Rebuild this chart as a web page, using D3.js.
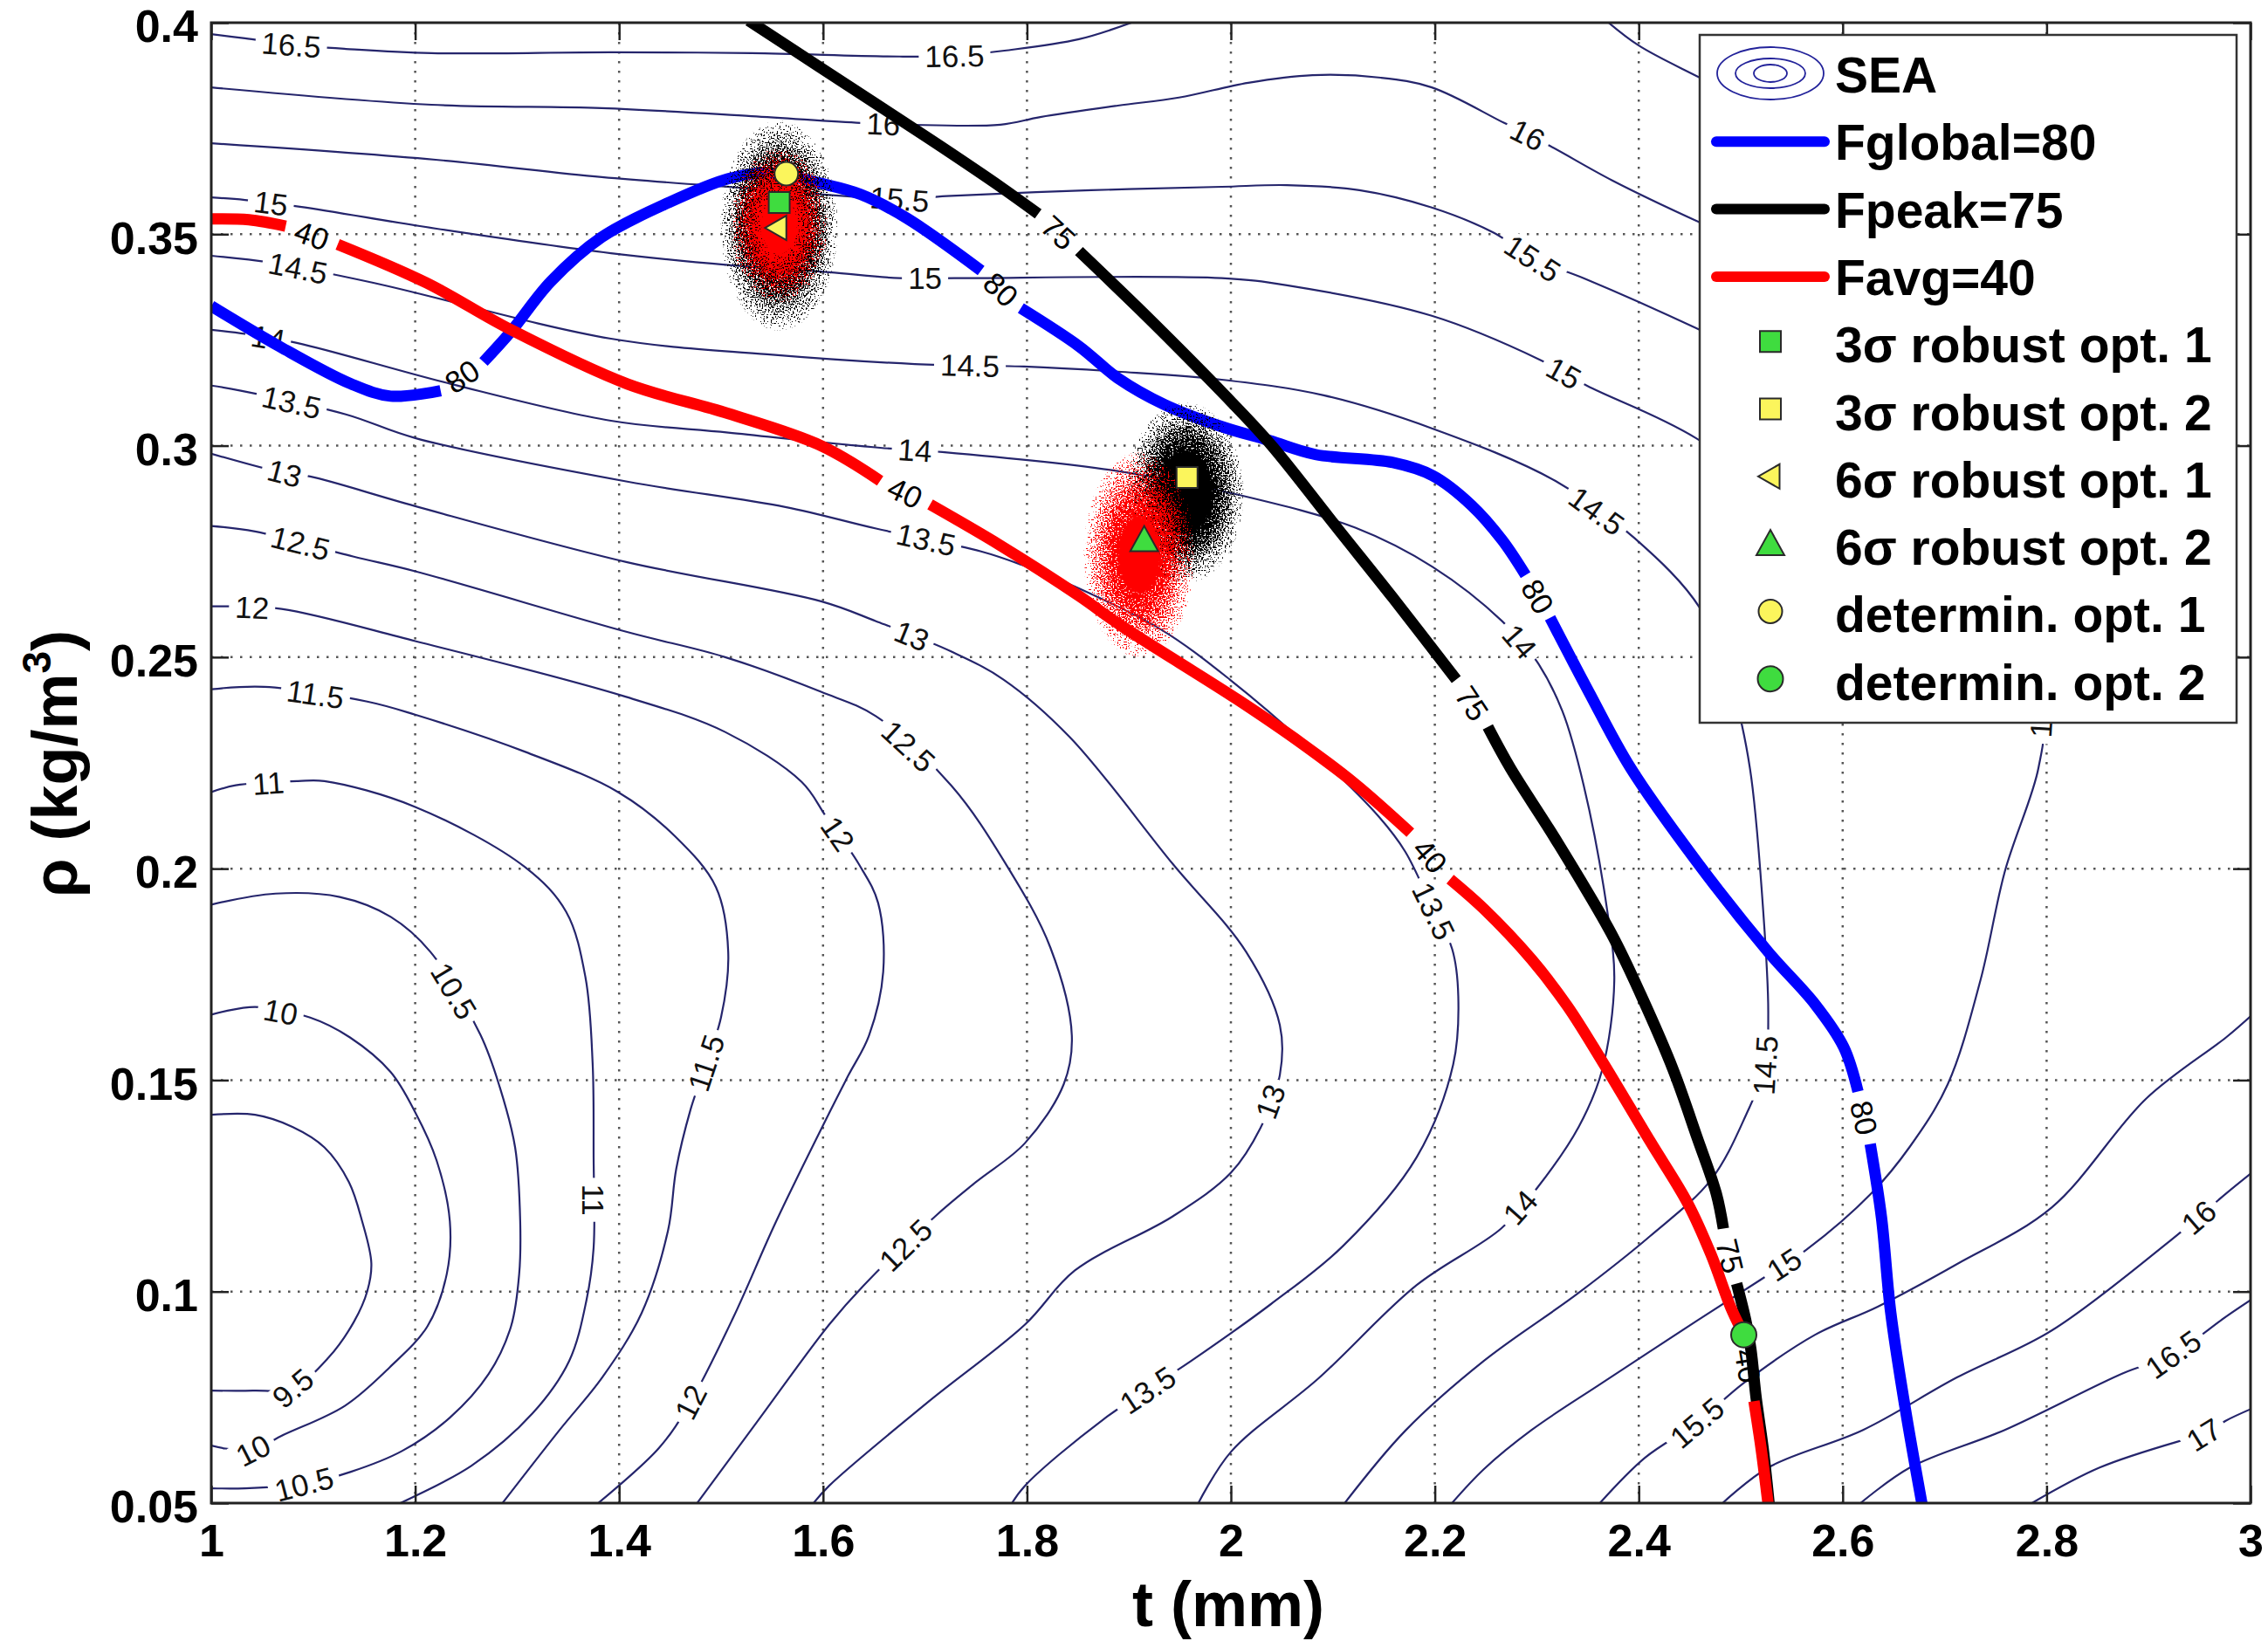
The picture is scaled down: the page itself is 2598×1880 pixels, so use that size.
<!DOCTYPE html>
<html><head><meta charset="utf-8">
<script src="https://cdn.jsdelivr.net/npm/d3@7"></script>
<style>
html,body{margin:0;padding:0;background:#fff;}
svg{display:block;}
text{font-family:"Liberation Sans",Arial,Helvetica,sans-serif;}
</style></head><body>
<svg id="chart" width="2598" height="1880"></svg>
<script>
// ---------------- DATA ----------------
const tTicks = [1, 1.2, 1.4, 1.6, 1.8, 2, 2.2, 2.4, 2.6, 2.8, 3];
const rhoTicks = [0.05, 0.1, 0.15, 0.2, 0.25, 0.3, 0.35, 0.4];

// SEA contour lines, [t, rho]
const sea9_5 = [[1.0,0.1418],[1.043,0.1418],[1.080,0.1389],[1.111,0.1341],[1.135,0.1259],[1.148,0.1166],[1.157,0.1067],[1.153,0.1001],[1.140,0.0929],[1.115,0.0844],[1.080,0.0772],[1.041,0.0766],[1.0,0.0766]];
const sea10 = [[1.0,0.1655],[1.043,0.1673],[1.097,0.1648],[1.136,0.1601],[1.176,0.1519],[1.200,0.1424],[1.221,0.1310],[1.234,0.1166],[1.231,0.1042],[1.212,0.0918],[1.175,0.0821],[1.131,0.0730],[1.068,0.0658],[1.041,0.0625],[1.014,0.0629],[1.0,0.0636]];
const sea10_5 = [[1.0,0.1915],[1.063,0.1941],[1.126,0.1933],[1.176,0.1886],[1.215,0.1803],[1.264,0.1607],[1.283,0.1483],[1.298,0.1341],[1.303,0.1166],[1.302,0.1042],[1.294,0.0918],[1.272,0.0805],[1.234,0.0702],[1.187,0.0623],[1.137,0.0574],[1.091,0.0545],[1.033,0.0535],[1.0,0.0535]];
const sea11 = [[1.0,0.2181],[1.024,0.2197],[1.085,0.2207],[1.111,0.2207],[1.200,0.2146],[1.308,0.2003],[1.348,0.1898],[1.367,0.1743],[1.374,0.1541],[1.375,0.1316],[1.375,0.1104],[1.368,0.0980],[1.351,0.0836],[1.315,0.0712],[1.255,0.0588],[1.181,0.0495]];
const sea11_5 = [[1.0,0.2424],[1.052,0.2430],[1.153,0.2395],[1.200,0.2364],[1.308,0.2276],[1.399,0.2181],[1.455,0.2076],[1.495,0.1956],[1.507,0.1803],[1.500,0.1649],[1.470,0.1430],[1.456,0.1290],[1.448,0.1145],[1.422,0.0949],[1.384,0.0799],[1.341,0.0671],[1.284,0.0495]];
const sea12 = [[1.0,0.2620],[1.018,0.2620],[1.069,0.2614],[1.200,0.2538],[1.407,0.2406],[1.504,0.2323],[1.579,0.2205],[1.603,0.2123],[1.635,0.2011],[1.654,0.1919],[1.659,0.1756],[1.645,0.1605],[1.625,0.1512],[1.606,0.1422],[1.554,0.1166],[1.512,0.0939],[1.470,0.0739],[1.439,0.0630],[1.377,0.0495]];
const sea12_5 = [[1.0,0.2810],[1.043,0.2797],[1.139,0.2738],[1.200,0.2703],[1.407,0.2560],[1.504,0.2500],[1.598,0.2418],[1.652,0.2360],[1.726,0.2196],[1.779,0.2012],[1.823,0.1813],[1.844,0.1605],[1.836,0.1490],[1.798,0.1351],[1.750,0.1259],[1.710,0.1178],[1.640,0.1015],[1.606,0.0922],[1.535,0.0691],[1.475,0.0495]];
const sea13 = [[1.0,0.2981],[1.072,0.2935],[1.097,0.2927],[1.200,0.2857],[1.407,0.2725],[1.598,0.2632],[1.652,0.2585],[1.726,0.2513],[1.777,0.2447],[1.842,0.2311],[1.943,0.2011],[2.015,0.1803],[2.048,0.1630],[2.048,0.1512],[2.029,0.1387],[2.000,0.1281],[1.943,0.1178],[1.847,0.1050],[1.798,0.0922],[1.702,0.0737],[1.606,0.0541],[1.589,0.0495]];
const sea13_5 = [[1.0,0.3142],[1.029,0.3130],[1.132,0.3074],[1.200,0.3018],[1.408,0.2915],[1.563,0.2855],[1.652,0.2804],[1.755,0.2750],[1.794,0.2719],[1.846,0.2668],[1.931,0.2566],[1.999,0.2447],[2.075,0.2290],[2.145,0.2123],[2.171,0.2040],[2.199,0.1900],[2.217,0.1810],[2.223,0.1698],[2.218,0.1537],[2.182,0.1317],[2.110,0.1108],[2.039,0.0970],[1.961,0.0836],[1.875,0.0698],[1.798,0.0541],[1.784,0.0495]];
const sea14 = [[1.0,0.3274],[1.034,0.3264],[1.084,0.3243],[1.235,0.3146],[1.392,0.3059],[1.507,0.3031],[1.656,0.2995],[1.717,0.2985],[1.889,0.2940],[2.007,0.2884],[2.122,0.2806],[2.198,0.2713],[2.266,0.2585],[2.300,0.2490],[2.325,0.2373],[2.346,0.2197],[2.369,0.1902],[2.376,0.1735],[2.364,0.1523],[2.341,0.1389],[2.300,0.1244],[2.265,0.1149],[2.182,0.1015],[2.086,0.0795],[2.000,0.0621],[1.967,0.0495]];
const sea14_5 = [[1.0,0.3449],[1.058,0.3433],[1.159,0.3385],[1.392,0.3253],[1.545,0.3216],[1.690,0.3193],[1.797,0.3187],[1.889,0.3175],[1.991,0.3156],[2.091,0.3119],[2.197,0.3041],[2.318,0.2917],[2.396,0.2781],[2.460,0.2616],[2.492,0.2424],[2.509,0.2238],[2.522,0.1902],[2.527,0.1657],[2.524,0.1535],[2.506,0.1422],[2.471,0.1265],[2.411,0.1131],[2.341,0.0997],[2.248,0.0836],[2.171,0.0671],[2.110,0.0495]];
const sea15 = [[1.0,0.3587],[1.033,0.3581],[1.087,0.3565],[1.221,0.3513],[1.392,0.3455],[1.507,0.3427],[1.606,0.3410],[1.675,0.3396],[1.729,0.3396],[1.991,0.3396],[2.055,0.3379],[2.197,0.3307],[2.304,0.3202],[2.349,0.3142],[2.456,0.3018],[2.620,0.2720],[2.750,0.2500],[2.795,0.2360],[2.792,0.2238],[2.759,0.1993],[2.735,0.1735],[2.703,0.1490],[2.666,0.1343],[2.628,0.1232],[2.564,0.1098],[2.522,0.1032],[2.457,0.0931],[2.364,0.0784],[2.295,0.0673],[2.248,0.0580],[2.215,0.0495]];
const sea15_5a = [[1.0,0.3715],[1.220,0.3676],[1.383,0.3635],[1.530,0.3608],[1.675,0.3583],[1.721,0.3590],[1.863,0.3604],[1.991,0.3612],[2.055,0.3616],[2.126,0.3604],[2.197,0.3563],[2.258,0.3503],[2.296,0.3443],[2.346,0.3396],[2.456,0.3278],[2.548,0.3167]];
const sea15_5b = [[3.0,0.1651],[2.976,0.1601],[2.898,0.1457],[2.805,0.1199],[2.712,0.1065],[2.634,0.0964],[2.573,0.0898],[2.503,0.0784],[2.457,0.0690],[2.406,0.0607],[2.360,0.0495]];
const sea16a = [[1.0,0.3847],[1.216,0.3806],[1.383,0.3798],[1.530,0.3779],[1.637,0.3763],[1.682,0.3759],[1.774,0.3759],[1.813,0.3777],[1.889,0.3804],[1.949,0.3823],[2.017,0.3858],[2.080,0.3876],[2.147,0.3870],[2.197,0.3847],[2.268,0.3763],[2.311,0.3711],[2.374,0.3627],[2.456,0.3532],[2.548,0.3435]];
const sea16b = [[3.0,0.1279],[2.976,0.1232],[2.949,0.1176],[2.921,0.1120],[2.805,0.0908],[2.712,0.0797],[2.620,0.0673],[2.527,0.0584],[2.480,0.0495]];
const sea16_5a = [[1.0,0.3973],[1.033,0.3963],[1.078,0.3948],[1.132,0.3938],[1.216,0.3928],[1.392,0.3930],[1.530,0.3928],[1.675,0.3920],[1.729,0.3922],[1.778,0.3934],[1.851,0.3961],[1.908,0.4005]];
const sea16_5b = [[3.0,0.0980],[2.976,0.0941],[2.924,0.0852],[2.875,0.0807],[2.759,0.0673],[2.666,0.0584],[2.615,0.0495]];
const sea16_5c = [[2.368,0.4005],[2.400,0.3946],[2.460,0.3870],[2.548,0.3765]];
const sea17 = [[3.0,0.0722],[2.976,0.0695],[2.954,0.0662],[2.935,0.0650],[2.852,0.0584],[2.782,0.0495]];

const seaLevels = [9.5, 10, 10.5, 11, 11.5, 12, 12.5, 13, 13.5, 14, 14.5, 15, 15.5, 15.5, 16, 16, 16.5, 16.5, 16.5, 17];
const seaLines = [sea9_5, sea10, sea10_5, sea11, sea11_5, sea12, sea12_5, sea13, sea13_5, sea14, sea14_5, sea15, sea15_5a, sea15_5b, sea16a, sea16b, sea16_5a, sea16_5b, sea16_5c, sea17];

// contour label anchors [level, t, rho]
const seaLabelPts = [
  [16.5,1.078,0.3935],[16.5,1.729,0.3920],
  [16,1.659,0.3755],[16,2.289,0.3725],
  [15.5,1.675,0.3583],[15.5,2.296,0.3443],
  [15,1.058,0.3565],[15,1.700,0.3392],[15,2.325,0.3165],[15,2.796,0.2350],[15,2.545,0.1055],
  [14.5,1.085,0.3420],[14.5,1.744,0.3185],[14.5,2.357,0.2840],[14.5,2.524,0.1535],
  [14,1.056,0.3258],[14,1.690,0.2985],[14,2.280,0.2530],[14,2.288,0.1190],
  [13.5,1.078,0.3095],[13.5,1.701,0.2778],[13.5,2.199,0.1900],[13.5,1.919,0.0765],
  [13,1.072,0.2935],[13,1.687,0.2550],[13,2.045,0.1444],
  [12.5,1.087,0.2765],[12.5,1.684,0.2290],[12.5,1.681,0.1110],
  [12,1.040,0.2616],[12,1.613,0.2080],[12,1.470,0.0739],
  [11.5,1.102,0.2410],[11.5,1.485,0.1541],
  [11,1.056,0.2200],[11,1.375,0.1217],
  [10.5,1.232,0.1702],[10.5,1.091,0.0545],
  [10,1.068,0.1660],[10,1.041,0.0625],
  [9.5,1.080,0.0772],
  [15.5,2.457,0.0690],
  [16,2.949,0.1176],
  [16.5,2.924,0.0852],
  [17,2.954,0.0662]
];

// constraint curves, split where the inline label sits
const fGlobalSegs = [
  [[1.0,0.3330],[1.068,0.3233],[1.137,0.3146],[1.176,0.3117],[1.225,0.3130]],
  [[1.267,0.3198],[1.294,0.3270],[1.333,0.3388],[1.383,0.3493],[1.449,0.3575],[1.507,0.3631],[1.546,0.3645],[1.598,0.3620],[1.637,0.3594],[1.682,0.3538],[1.755,0.3414]],
  [[1.794,0.3325],[1.851,0.3235],[1.889,0.3160],[1.935,0.3097],[1.991,0.3045],[2.038,0.3012],[2.083,0.2979],[2.159,0.2960],[2.198,0.2929],[2.236,0.2859],[2.266,0.2777],[2.289,0.2694]],
  [[2.313,0.2593],[2.351,0.2418],[2.392,0.2238],[2.457,0.2016],[2.527,0.1803],[2.573,0.1679],[2.601,0.1578],[2.615,0.1473]],
  [[2.627,0.1349],[2.638,0.1176],[2.647,0.0953],[2.661,0.0729],[2.678,0.0495]]
];
const fPeakSegs = [
  [[1.527,0.4005],[1.598,0.3893],[1.659,0.3797],[1.717,0.3705],[1.774,0.3612],[1.811,0.3548]],
  [[1.851,0.3460],[1.908,0.3328],[1.949,0.3230],[1.991,0.3127],[2.038,0.3006],[2.106,0.2800],[2.159,0.2640],[2.221,0.2447]],
  [[2.252,0.2335],[2.274,0.2238],[2.318,0.2071],[2.373,0.1847],[2.402,0.1702],[2.434,0.1523],[2.457,0.1366],[2.476,0.1232],[2.483,0.1149]],
  [[2.496,0.1019],[2.505,0.0931],[2.510,0.0863],[2.515,0.0751],[2.522,0.0629],[2.528,0.0495]]
];
const fAvgSegs = [
  [[1.0,0.3536],[1.037,0.3534],[1.073,0.3519]],
  [[1.124,0.3476],[1.211,0.3385],[1.294,0.3274],[1.408,0.3146],[1.507,0.3076],[1.598,0.3000],[1.656,0.2917]],
  [[1.705,0.2861],[1.774,0.2764],[1.851,0.2645],[1.892,0.2575],[2.007,0.2399],[2.070,0.2295],[2.122,0.2200],[2.176,0.2085]],
  [[2.215,0.1975],[2.248,0.1905],[2.295,0.1785],[2.330,0.1675],[2.364,0.1545],[2.411,0.1356],[2.448,0.1209],[2.471,0.1087],[2.490,0.0964],[2.501,0.0908]],
  [[2.513,0.0741],[2.520,0.0629],[2.527,0.0495]]
];
const curveNames = ['Fglobal=80', 'Fpeak=75', 'Favg=40'];
const curveLevels = ['80', '75', '40'];

// Monte-Carlo sample clouds: [t centre, rho centre, t half-spread, rho half-spread]
const cloudBlack = [[1.557, 0.3520, 0.058, 0.0250], [1.955, 0.2888, 0.058, 0.0215]];
const cloudRed   = [[1.557, 0.3520, 0.048, 0.0185], [1.910, 0.2742, 0.055, 0.0245]];

// optimum points
const markerNames = ['3σ robust opt. 1', '3σ robust opt. 2', '6σ robust opt. 1', '6σ robust opt. 2', 'determin. opt. 1', 'determin. opt. 2'];
const markerT   = [1.557, 1.957, 1.555, 1.915, 1.564, 2.503];
const markerRho = [0.3575, 0.2925, 0.3515, 0.2777, 0.3643, 0.0898];

const legendLabels = ['SEA', 'Fglobal=80', 'Fpeak=75', 'Favg=40'].concat(markerNames);

// ---------------- STYLE / LAYOUT ----------------
const FONT = '"Liberation Sans",Arial,Helvetica,sans-serif';
const plotL = 242, plotR = 2578, plotT = 26, plotB = 1722;
const contourColor = '#25256c';
const curveColors = ['#0000ff', '#000000', '#ff0000'];
const markerStyle = [
  {shape: 'square', fill: '#3fdc3f', size: 24},
  {shape: 'square', fill: '#fbf55c', size: 24},
  {shape: 'tleft', fill: '#fbf55c', size: 28},
  {shape: 'tup', fill: '#3fdc3f', size: 32},
  {shape: 'circle', fill: '#fbf55c', size: 27},
  {shape: 'circle', fill: '#3fdc3f', size: 29}
];

const x = d3.scaleLinear().domain([1, 3]).range([plotL, plotR]);
const y = d3.scaleLinear().domain([0.05, 0.4]).range([plotB, plotT]);

const svg = d3.select('#chart');
svg.append('rect').attr('width', 2598).attr('height', 1880).attr('fill', '#fff');
const defs = svg.append('defs');
defs.append('clipPath').attr('id', 'plotClip').append('rect')
  .attr('x', plotL).attr('y', plotT).attr('width', plotR - plotL).attr('height', plotB - plotT);

const grad = defs.append('radialGradient').attr('id', 'cloudGrad');
[[0, 1], [35, 0.93], [62, 0.58], [84, 0.24], [100, 0]].forEach(([o, a]) =>
  grad.append('stop').attr('offset', o + '%').attr('stop-color', '#fff').attr('stop-opacity', a));

function speckle(id, color, seed, gain) {
  const f = defs.append('filter').attr('id', id)
    .attr('x', '-5%').attr('y', '-5%').attr('width', '110%').attr('height', '110%')
    .attr('color-interpolation-filters', 'sRGB');
  f.append('feTurbulence').attr('type', 'fractalNoise').attr('baseFrequency', 0.6)
    .attr('numOctaves', 1).attr('seed', seed).attr('result', 'noise');
  f.append('feColorMatrix').attr('in', 'noise').attr('type', 'matrix')
    .attr('values', '0 0 0 0 0  0 0 0 0 0  0 0 0 0 0  1 0 0 0 0').attr('result', 'nA0');
  const st = f.append('feComponentTransfer').attr('in', 'nA0').attr('result', 'nA');
  st.append('feFuncA').attr('type', 'linear').attr('slope', 3).attr('intercept', -1);
  f.append('feComposite').attr('in', 'SourceAlpha').attr('in2', 'nA').attr('operator', 'arithmetic')
    .attr('k1', 0).attr('k2', gain).attr('k3', 1).attr('k4', -1).attr('result', 'm');
  const ct = f.append('feComponentTransfer').attr('in', 'm').attr('result', 'mask');
  ct.append('feFuncA').attr('type', 'linear').attr('slope', 14).attr('intercept', 0);
  f.append('feFlood').attr('flood-color', color).attr('result', 'col');
  f.append('feComposite').attr('in', 'col').attr('in2', 'mask').attr('operator', 'in');
}
speckle('speckBlack', '#000000', 3, 1.32);
speckle('speckRed', '#ff0000', 11, 1.15);

const plot = svg.append('g').attr('clip-path', 'url(#plotClip)');

// grid
const gGrid = plot.append('g');
gGrid.selectAll('line.v').data(tTicks.slice(1, -1)).join('line')
  .attr('x1', d => x(d)).attr('x2', d => x(d)).attr('y1', plotT).attr('y2', plotB)
  .attr('stroke', '#555').attr('stroke-width', 2.5).attr('stroke-dasharray', '2.5,8.5');
gGrid.selectAll('line.h').data(rhoTicks.slice(1, -1)).join('line')
  .attr('y1', d => y(d)).attr('y2', d => y(d)).attr('x1', plotL).attr('x2', plotR)
  .attr('stroke', '#555').attr('stroke-width', 2.5).attr('stroke-dasharray', '2.5,8.5');

// contours
const smooth = d3.line().x(d => x(d[0])).y(d => y(d[1])).curve(d3.curveCatmullRom.alpha(0.5));
plot.append('g').selectAll('path').data(seaLines).join('path')
  .attr('d', d => smooth(d)).attr('fill', 'none')
  .attr('stroke', contourColor).attr('stroke-width', 2.2).attr('stroke-linejoin', 'round');

function project(px, py, polys) {
  let best = null;
  polys.forEach(pts => {
    for (let i = 0; i < pts.length - 1; i++) {
      const ax = x(pts[i][0]), ay = y(pts[i][1]), bx = x(pts[i + 1][0]), by = y(pts[i + 1][1]);
      const dx = bx - ax, dy = by - ay, L2 = dx * dx + dy * dy;
      if (!L2) continue;
      let u = ((px - ax) * dx + (py - ay) * dy) / L2;
      u = Math.max(0, Math.min(1, u));
      const qx = ax + u * dx, qy = ay + u * dy, dd = (qx - px) ** 2 + (qy - py) ** 2;
      if (!best || dd < best.d) best = {d: dd, x: qx, y: qy, ang: Math.atan2(dy, dx) * 180 / Math.PI};
    }
  });
  return best;
}
function readable(a) { while (a > 90) a -= 180; while (a <= -90) a += 180; return a; }

// contour labels
const gCL = plot.append('g');
seaLabelPts.forEach(([lev, t, r]) => {
  const polys = seaLines.filter((l, i) => seaLevels[i] === lev);
  const p = project(x(t), y(r), polys);
  const g = gCL.append('g').attr('transform', `translate(${p.x},${p.y}) rotate(${readable(p.ang)})`);
  const tx = g.append('text').text(String(lev)).attr('text-anchor', 'middle').attr('dy', '0.36em')
    .attr('font-size', 35).attr('font-family', FONT).attr('fill', '#111');
  const bb = tx.node().getBBox();
  g.insert('rect', 'text').attr('x', bb.x - 7).attr('y', -bb.height * 0.38)
    .attr('width', bb.width + 14).attr('height', bb.height * 0.76).attr('fill', '#fff');
});

// constraint curves
const curveLine = d3.line().x(d => x(d[0])).y(d => y(d[1])).curve(d3.curveCatmullRom.alpha(0.5));
[fGlobalSegs, fPeakSegs, fAvgSegs].forEach((segs, k) => {
  const g = plot.append('g');
  g.selectAll('path').data(segs).join('path').attr('d', d => curveLine(d))
    .attr('fill', 'none').attr('stroke', curveColors[k]).attr('stroke-width', 13)
    .attr('stroke-linecap', 'butt').attr('stroke-linejoin', 'round');
  for (let i = 0; i < segs.length - 1; i++) {
    const a = segs[i][segs[i].length - 1], b = segs[i + 1][0];
    const ax = x(a[0]), ay = y(a[1]), bx = x(b[0]), by = y(b[1]);
    const ang = readable(Math.atan2(by - ay, bx - ax) * 180 / Math.PI);
    g.append('text').text(curveLevels[k]).attr('text-anchor', 'middle').attr('dy', '0.36em')
      .attr('transform', `translate(${(ax + bx) / 2},${(ay + by) / 2}) rotate(${ang})`)
      .attr('font-size', 35).attr('font-family', FONT).attr('fill', '#000');
  }
});

// sample clouds (black first, red on top)
const gCloud = plot.append('g');
[0, 1].forEach(i => {
  [[cloudBlack[i], 'speckBlack'], [cloudRed[i], 'speckRed']].forEach(([c, fid]) => {
    gCloud.append('ellipse')
      .attr('cx', x(c[0])).attr('cy', y(c[1]))
      .attr('rx', x(c[0] + c[2]) - x(c[0])).attr('ry', y(c[1]) - y(c[1] + c[3]))
      .attr('fill', 'url(#cloudGrad)').attr('filter', `url(#${fid})`);
  });
});

// markers
function markerPath(shape, s) {
  const h = s / 2;
  if (shape === 'square') return `M${-h},${-h}H${h}V${h}H${-h}Z`;
  if (shape === 'tup') return `M0,${-h}L${h},${h * 0.8}L${-h},${h * 0.8}Z`;
  if (shape === 'tleft') return `M${-h},0L${h * 0.75},${-h}L${h * 0.75},${h}Z`;
  return d3.symbol(d3.symbolCircle, Math.PI * h * h)();
}
const gM = svg.append('g');
markerNames.forEach((n, i) => {
  const st = markerStyle[i];
  gM.append('path').attr('d', markerPath(st.shape, st.size))
    .attr('transform', `translate(${x(markerT[i])},${y(markerRho[i])})`)
    .attr('fill', st.fill).attr('stroke', '#2a2a2a').attr('stroke-width', 2);
});

// axes (ticks inward)
function styleAxis(g) {
  g.select('.domain').remove();
  g.selectAll('line').attr('stroke', '#222').attr('stroke-width', 2.5);
  g.selectAll('text').attr('font-size', 52).attr('font-weight', 'bold')
    .attr('font-family', FONT).attr('fill', '#000');
}
svg.append('g').attr('transform', `translate(0,${plotB})`)
  .call(d3.axisBottom(x).tickValues(tTicks).tickSize(-20).tickPadding(24).tickFormat(d => String(d)))
  .call(styleAxis);
svg.append('g').attr('transform', `translate(0,${plotT})`)
  .call(d3.axisTop(x).tickValues(tTicks).tickSize(-20).tickFormat(''))
  .call(styleAxis);
svg.append('g').attr('transform', `translate(${plotL},0)`)
  .call(d3.axisLeft(y).tickValues(rhoTicks).tickSize(-20).tickPadding(15).tickFormat(d => String(d)))
  .call(styleAxis)
  .call(g => g.selectAll('text').attr('dy', '0.42em'));
svg.append('g').attr('transform', `translate(${plotR},0)`)
  .call(d3.axisRight(y).tickValues(rhoTicks).tickSize(-20).tickFormat(''))
  .call(styleAxis);
svg.append('rect').attr('x', plotL).attr('y', plotT).attr('width', plotR - plotL).attr('height', plotB - plotT)
  .attr('fill', 'none').attr('stroke', '#222').attr('stroke-width', 3);

// axis titles
svg.append('text').attr('x', (plotL + plotR) / 2 - 3).attr('y', 1863).attr('text-anchor', 'middle')
  .attr('font-size', 72).attr('font-weight', 'bold').attr('font-family', FONT).text('t (mm)');
const yl = svg.append('text').attr('transform', 'translate(88,875) rotate(-90)').attr('text-anchor', 'middle')
  .attr('font-size', 72).attr('font-weight', 'bold').attr('font-family', FONT);
yl.append('tspan').text('ρ (kg/m');
yl.append('tspan').text('3').attr('font-size', 46).attr('dy', -30);
yl.append('tspan').text(')').attr('dy', 30);

// legend
const lg = svg.append('g');
lg.append('rect').attr('x', 1947).attr('y', 40).attr('width', 615).attr('height', 788)
  .attr('fill', '#fff').attr('stroke', '#333').attr('stroke-width', 2.5);
const rowY = i => 106 + i * 77.3;
legendLabels.forEach((lab, i) => {
  lg.append('text').attr('x', 2102).attr('y', rowY(i)).text(lab)
    .attr('font-size', 57).attr('font-weight', 'bold').attr('font-family', FONT).attr('fill', '#000');
});
[[61, 30], [40, 17], [19, 10]].forEach(([rx, ry]) => {
  lg.append('ellipse').attr('cx', 2028).attr('cy', 84).attr('rx', rx).attr('ry', ry)
    .attr('fill', 'none').attr('stroke', '#22229a').attr('stroke-width', 1.8);
});
curveNames.forEach((n, k) => {
  lg.append('line').attr('x1', 1966).attr('x2', 2090).attr('y1', rowY(k + 1) - 21).attr('y2', rowY(k + 1) - 21)
    .attr('stroke', curveColors[k]).attr('stroke-width', 12).attr('stroke-linecap', 'round');
});
markerNames.forEach((n, i) => {
  const st = markerStyle[i];
  lg.append('path').attr('d', markerPath(st.shape, st.size))
    .attr('transform', `translate(2028,${rowY(i + 4) - 24})`)
    .attr('fill', st.fill).attr('stroke', '#2a2a2a').attr('stroke-width', 2);
});
</script>
</body></html>
